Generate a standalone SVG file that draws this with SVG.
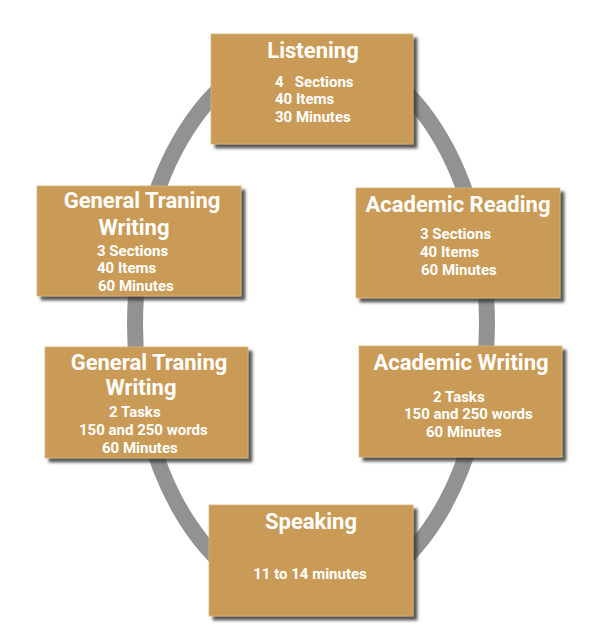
<svg xmlns="http://www.w3.org/2000/svg" width="616" height="640" viewBox="0 0 616 640">
<defs>
<filter id="sh" x="-10%" y="-10%" width="130%" height="130%">
<feGaussianBlur in="SourceAlpha" stdDeviation="1.5"/>
<feOffset dx="4" dy="4" result="b"/>
<feFlood flood-color="#3a3a3a" flood-opacity="0.85"/>
<feComposite in2="b" operator="in"/>
<feMerge><feMergeNode/><feMergeNode in="SourceGraphic"/></feMerge>
</filter>
<style>
.box{fill:#C99B57;stroke:#d8b47a;stroke-width:0.8;filter:url(#sh)}
.t{font-family:Roboto,"Liberation Sans",sans-serif;font-weight:bold;fill:#ffffff;font-size:22px;text-anchor:middle}
.b{font-family:Roboto,"Liberation Sans",sans-serif;font-weight:bold;fill:#ffffff;font-size:15px}
</style>
</defs>
<rect width="616" height="640" fill="#ffffff"/>
<g id="connectors">
<ellipse cx="311" cy="325" rx="176" ry="276" fill="none" stroke="#929292" stroke-width="16"/>
</g>
<g id="listening">
<rect class="box" x="211" y="34" width="202" height="110"/>
<text class="t" x="313" y="58">Listening</text>
<text class="b" xml:space="preserve"><tspan x="275" y="87">4   Sections</tspan><tspan x="275" y="104">40 Items</tspan><tspan x="275" y="122">30 Minutes</tspan></text>
</g>
<g id="gt-writing-1">
<rect class="box" x="37" y="186" width="204" height="110"/>
<text class="t"><tspan x="142" y="208">General Traning</tspan><tspan x="134" y="235">Writing</tspan></text>
<text class="b"><tspan x="97" y="256">3 Sections</tspan><tspan x="97" y="273">40 Items</tspan><tspan x="98" y="291">60 Minutes</tspan></text>
</g>
<g id="academic-reading">
<rect class="box" x="356" y="188" width="204" height="110"/>
<text class="t" x="458" y="212">Academic Reading</text>
<text class="b"><tspan x="420" y="239">3 Sections</tspan><tspan x="420" y="257">40 Items</tspan><tspan x="421" y="275">60 Minutes</tspan></text>
</g>
<g id="gt-writing-2">
<rect class="box" x="45" y="347" width="203" height="111"/>
<text class="t"><tspan x="149" y="370">General Traning</tspan><tspan x="141" y="395">Writing</tspan></text>
<text class="b"><tspan x="109" y="417">2 Tasks</tspan><tspan x="79" y="435">150 and 250 words</tspan><tspan x="102" y="453">60 Minutes</tspan></text>
</g>
<g id="academic-writing">
<rect class="box" x="359" y="346" width="203" height="111"/>
<text class="t" x="461" y="370">Academic Writing</text>
<text class="b"><tspan x="433" y="402">2 Tasks</tspan><tspan x="404" y="419">150 and 250 words</tspan><tspan x="426" y="437">60 Minutes</tspan></text>
</g>
<g id="speaking">
<rect class="box" x="209" y="505" width="204" height="111"/>
<text class="t" x="311" y="529">Speaking</text>
<text class="b" x="310" y="579" text-anchor="middle">11 to 14 minutes</text>
</g>
</svg>
